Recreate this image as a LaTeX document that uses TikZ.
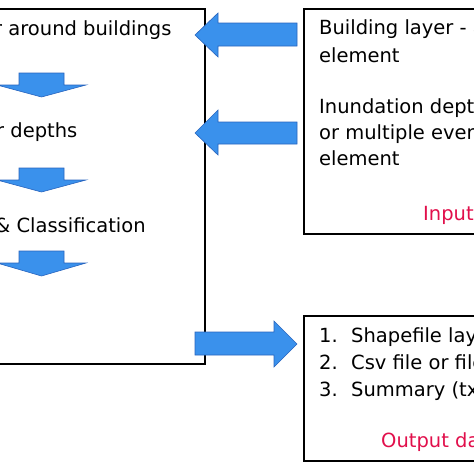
\documentclass[tikz,border=0pt]{standalone}
\usepackage{fontspec}
\setmainfont{DejaVu Sans}
\definecolor{arrowblue}{RGB}{58,145,236}
\definecolor{arrowedge}{RGB}{40,100,190}
\definecolor{labelred}{RGB}{225,15,75}
\begin{document}
\begin{tikzpicture}[x=1pt,y=-1pt]
\tikzset{
  blk/.style={draw=black,line width=2.6pt},
  blu/.style={fill=arrowblue,draw=arrowedge,line width=0.6pt,line join=miter},
  txt/.style={anchor=base west,inner sep=0pt,font=\fontsize{19.5}{24}\selectfont},
  redtxt/.style={txt,text=labelred}
}
\useasboundingbox (0,0) rectangle (474,474);
\clip (0,0) rectangle (474,474);
% boxes
\draw[blk] (-20,9) rectangle (205,364);
\draw[blk] (304,9) rectangle (490,234);
\draw[blk] (304,316) rectangle (490,461);
% left box texts
\node[txt] (t1) at (-6,35) {r around buildings};
\node[txt] (t2) at (-4,137) {r depths};
\node[txt] (t3) at (-5,232) {\& Classification};
% down arrows
\draw[blu] (19,73) -- (64,73) -- (64,85) -- (86,85) -- (41.5,97) -- (-3,85) -- (19,85) -- cycle;
\draw[blu] (19,168) -- (64,168) -- (64,180) -- (86,180) -- (41.5,192) -- (-3,180) -- (19,180) -- cycle;
\draw[blu] (19,251) -- (64,251) -- (64,263) -- (86,263) -- (41.5,276) -- (-3,263) -- (19,263) -- cycle;
% left-pointing arrows
\draw[blu] (297,23) -- (218,23) -- (218,13) -- (195,35) -- (218,57) -- (218,46) -- (297,46) -- cycle;
\draw[blu] (297,122) -- (218,122) -- (218,110) -- (195,133) -- (218,155) -- (218,144) -- (297,144) -- cycle;
% right-pointing arrow
\draw[blu] (195,332) -- (274,332) -- (274,321) -- (297,344) -- (274,367) -- (274,355) -- (195,355) -- cycle;
% input box texts
\node[txt] (i1) at (319,34) {Building layer - a};
\node[txt] (i2) at (319,62) {element};
\node[txt] (i3) at (319,113) {Inundation depth};
\node[txt] (i4) at (319,139) {or multiple event};
\node[txt] (i5) at (319,165) {element};
\node[redtxt] (i6) at (423,220) {Input};
% output box texts
\node[txt] (o1n) at (319,342) {1.};
\node[txt] (o1) at (351,342) {Shapefile layer};
\node[txt] (o2n) at (319,369) {2.};
\node[txt] (o2) at (351,369) {Csv file or file};
\node[txt] (o3n) at (319,396) {3.};
\node[txt] (o3) at (351,396) {Summary (txt};
\node[redtxt] (o4) at (381,447) {Output data};
\end{tikzpicture}
\end{document}
